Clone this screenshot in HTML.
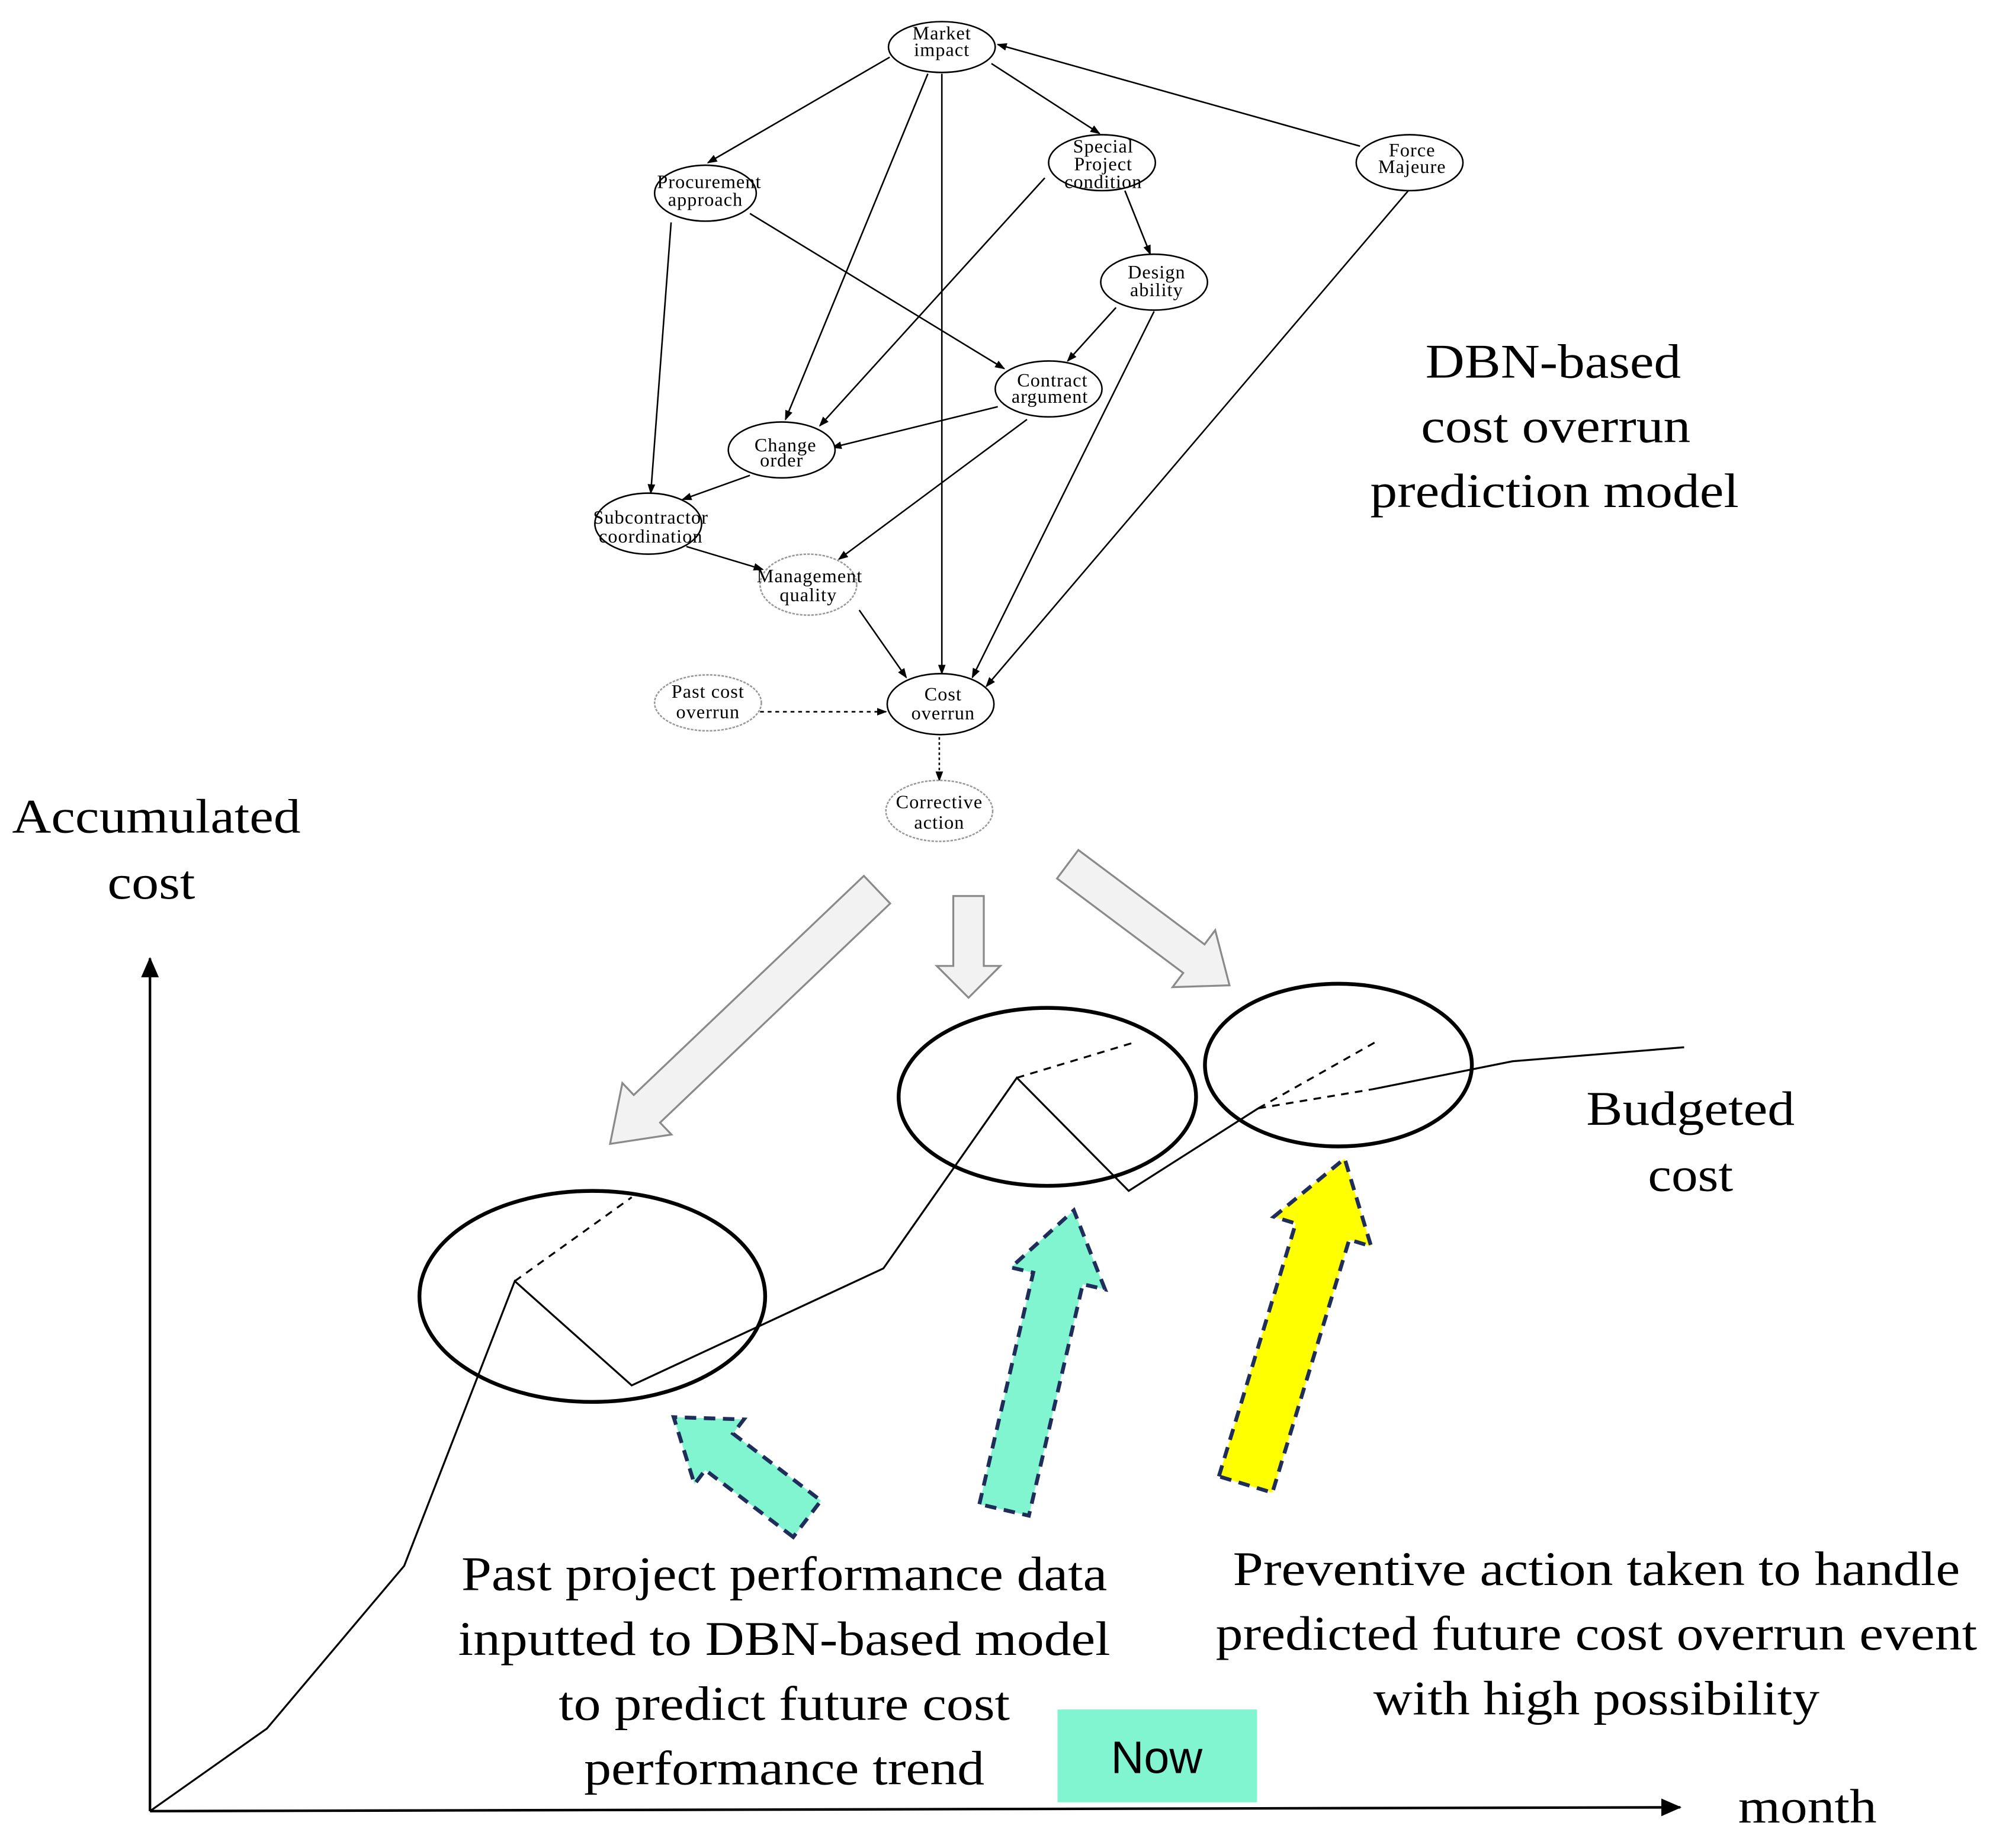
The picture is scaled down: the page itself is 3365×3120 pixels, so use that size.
<!DOCTYPE html>
<html><head><meta charset="utf-8"><style>
html,body{margin:0;padding:0;background:#fff;}
svg{display:block;}
</style></head><body>
<svg width="3365" height="3120" viewBox="0 0 1568 1454" preserveAspectRatio="none" xmlns="http://www.w3.org/2000/svg" font-family="Liberation Serif, serif">
<defs>
<marker id="ah" markerWidth="8" markerHeight="8" refX="7" refY="4" orient="auto" markerUnits="userSpaceOnUse"><path d="M0,1 L8,4 L0,7 Z" fill="#000"/></marker>
<marker id="ah2" markerWidth="16" markerHeight="14" refX="15" refY="7" orient="auto" markerUnits="userSpaceOnUse"><path d="M0,0 L16,7 L0,14 Z" fill="#000"/></marker>
</defs>

<g stroke="#000" stroke-width="1.2" fill="none" marker-end="url(#ah)">
<line x1="700" y1="45" x2="557" y2="128"/>
<line x1="730" y1="58" x2="618" y2="330"/>
<line x1="741" y1="58" x2="741" y2="530"/>
<line x1="780" y1="50" x2="865" y2="105"/>
<line x1="1070" y1="115" x2="785" y2="35"/>
<line x1="1108" y1="150" x2="776" y2="540"/>
<line x1="528" y1="175" x2="512" y2="388"/>
<line x1="590" y1="168" x2="790" y2="290"/>
<line x1="822" y1="140" x2="645" y2="335"/>
<line x1="885" y1="150" x2="905" y2="200"/>
<line x1="878" y1="242" x2="840" y2="284"/>
<line x1="908" y1="245" x2="765" y2="533"/>
<line x1="785" y1="320" x2="655" y2="352"/>
<line x1="808" y1="330" x2="660" y2="440"/>
<line x1="590" y1="374" x2="537" y2="393"/>
<line x1="540" y1="430" x2="600" y2="448"/>
<line x1="676" y1="480" x2="713" y2="533"/>
<line x1="598" y1="560" x2="697" y2="560" stroke-dasharray="3,3"/>
<line x1="739" y1="580" x2="739" y2="614" stroke-dasharray="2,2"/>
</g>

<g fill="#fff" stroke="#000" stroke-width="1.2">
<ellipse cx="741" cy="37" rx="42" ry="20"/>
<ellipse cx="555" cy="152" rx="40" ry="22"/>
<ellipse cx="867" cy="128" rx="42" ry="22"/>
<ellipse cx="1109" cy="128" rx="42" ry="22"/>
<ellipse cx="908" cy="222" rx="42" ry="22"/>
<ellipse cx="825" cy="306" rx="42" ry="22"/>
<ellipse cx="615" cy="354" rx="42" ry="22"/>
<ellipse cx="510" cy="412" rx="42" ry="24"/>
<ellipse cx="740" cy="554" rx="42" ry="24"/>
<ellipse cx="636" cy="460" rx="38" ry="24" stroke="#999" stroke-dasharray="2,1"/>
<ellipse cx="557" cy="553" rx="42" ry="22" stroke="#999" stroke-dasharray="2,1"/>
<ellipse cx="739" cy="638" rx="42" ry="24" stroke="#999" stroke-dasharray="2,1"/>
</g>
<g font-size="15" text-anchor="middle" fill="#000" letter-spacing="0.5">
<text x="741" y="31">Market</text><text x="741" y="44">impact</text>
<text x="558" y="148">Procurement</text><text x="555" y="162">approach</text>
<text x="868" y="120">Special</text><text x="868" y="134">Project</text><text x="868" y="148">condition</text>
<text x="1111" y="123">Force</text><text x="1111" y="136">Majeure</text>
<text x="910" y="219">Design</text><text x="910" y="233">ability</text>
<text x="828" y="304">Contract</text><text x="826" y="317">argument</text>
<text x="618" y="355">Change</text><text x="615" y="367">order</text>
<text x="512" y="412">Subcontractor</text><text x="512" y="427">coordination</text>
<text x="637" y="458">Management</text><text x="636" y="473">quality</text>
<text x="742" y="551">Cost</text><text x="742" y="566">overrun</text>
<text x="557" y="549">Past cost</text><text x="557" y="565">overrun</text>
<text x="739" y="636">Corrective</text><text x="739" y="652">action</text>
</g>

<g font-size="38" text-anchor="middle" fill="#000" lengthAdjust="spacingAndGlyphs">
<text x="1222" y="297" textLength="201" lengthAdjust="spacingAndGlyphs">DBN-based</text>
<text x="1224" y="348" textLength="212" lengthAdjust="spacingAndGlyphs">cost overrun</text>
<text x="1223" y="399" textLength="290" lengthAdjust="spacingAndGlyphs">prediction model</text>
<text x="123" y="655" textLength="227" lengthAdjust="spacingAndGlyphs">Accumulated</text>
<text x="119" y="707" textLength="69" lengthAdjust="spacingAndGlyphs">cost</text>
<text x="1330" y="885" textLength="164" lengthAdjust="spacingAndGlyphs">Budgeted</text>
<text x="1330" y="937" textLength="67" lengthAdjust="spacingAndGlyphs">cost</text>
<text x="1422" y="1434" textLength="109" lengthAdjust="spacingAndGlyphs">month</text>
<text x="617" y="1251" textLength="508" lengthAdjust="spacingAndGlyphs">Past project performance data</text>
<text x="617" y="1302" textLength="513" lengthAdjust="spacingAndGlyphs">inputted to DBN-based model</text>
<text x="617" y="1353" textLength="355" lengthAdjust="spacingAndGlyphs">to predict future cost</text>
<text x="617" y="1404" textLength="315" lengthAdjust="spacingAndGlyphs">performance trend</text>
<text x="1256" y="1247" textLength="572" lengthAdjust="spacingAndGlyphs">Preventive action taken to handle</text>
<text x="1256" y="1298" textLength="599" lengthAdjust="spacingAndGlyphs">predicted future cost overrun event</text>
<text x="1256" y="1349" textLength="351" lengthAdjust="spacingAndGlyphs">with high possibility</text>
</g>

<g stroke="#000" stroke-width="2" fill="none">
<line x1="118" y1="1425" x2="118" y2="754" marker-end="url(#ah2)"/>
<line x1="118" y1="1425" x2="1322" y2="1422" marker-end="url(#ah2)"/>
</g>

<polyline points="118,1425 210,1360 318,1232 405,1008 497,1090 695,998 800,848 888,937 990,872" fill="none" stroke="#000" stroke-width="1.5"/>
<polyline points="1080,857 1190,835 1325,824" fill="none" stroke="#000" stroke-width="1.5"/>
<g stroke="#000" stroke-width="1.5" stroke-dasharray="6,5" fill="none">
<line x1="405" y1="1008" x2="497" y2="942"/>
<line x1="800" y1="848" x2="893" y2="820"/>
<line x1="990" y1="872" x2="1082" y2="820"/>
<line x1="990" y1="872" x2="1080" y2="857"/>
</g>

<g fill="none" stroke="#000" stroke-width="3">
<ellipse cx="466" cy="1020" rx="136" ry="83"/>
<ellipse cx="824" cy="863" rx="117" ry="70"/>
<ellipse cx="1053" cy="838" rx="105" ry="64"/>
</g>

<g fill="#f2f2f2" stroke="#8a8a8a" stroke-width="1.5">
<polygon transform="translate(690,700) rotate(136.4)" points="0,-15 250,-15 250,-28 290,0 250,28 250,15 0,15"/>
<polygon transform="translate(762,705) rotate(90)" points="0,-12 55,-12 55,-25 80,0 55,25 55,12 0,12"/>
<polygon transform="translate(840,680) rotate(36.8)" points="0,-14 124,-14 124,-28 159,0 124,28 124,14 0,14"/>
</g>

<g stroke="#1f2d5a" stroke-width="3" stroke-dasharray="9,6">
<polygon fill="#80f5d0" transform="translate(635,1195) rotate(-142.7)" points="0,-18 87,-18 87,-32 132,0 87,32 87,18 0,18"/>
<polygon fill="#80f5d0" transform="translate(790,1188) rotate(-76.9)" points="0,-20 187,-20 187,-38 242,0 187,38 187,20 0,20"/>
<polygon fill="#ffff00" transform="translate(980,1168) rotate(-73.1)" points="0,-22 208,-22 208,-40 268,0 208,40 208,22 0,22"/>
</g>

<rect x="832" y="1345" width="157" height="73" fill="#80f5d0"/>
<text x="910" y="1395" font-family="Liberation Sans, sans-serif" font-size="36" text-anchor="middle" fill="#000">Now</text>
</svg>
</body></html>
